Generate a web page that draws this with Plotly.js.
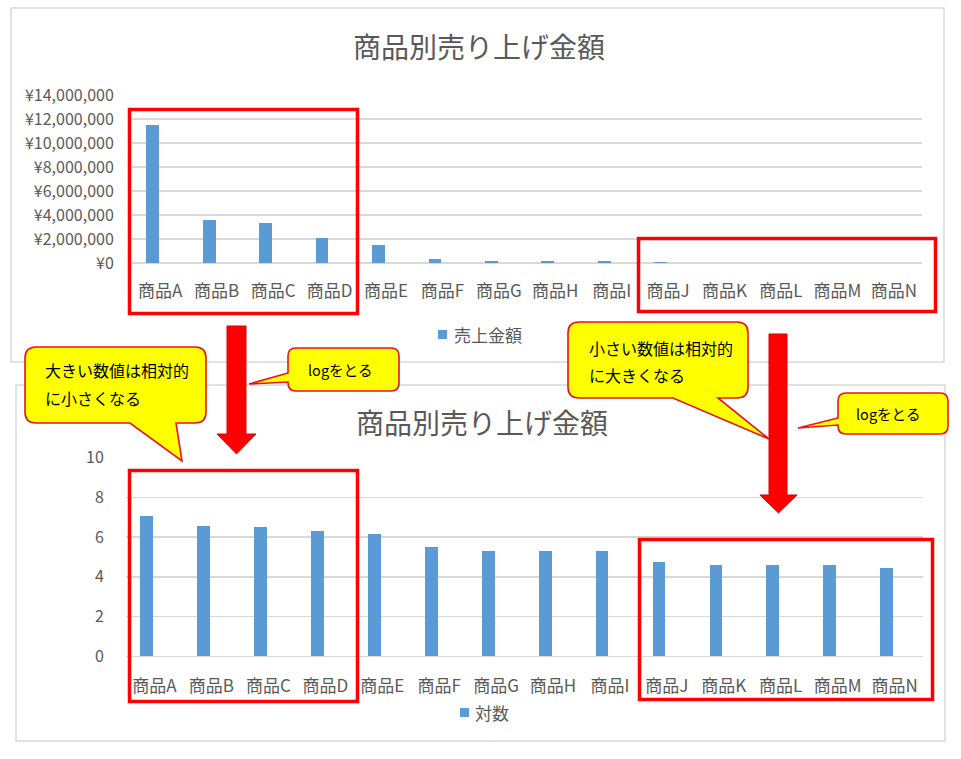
<!DOCTYPE html>
<html>
<head>
<meta charset="utf-8">
<script src="https://cdn.plot.ly/plotly-3.0.1.min.js"></script>
<style>html,body{margin:0;padding:0;background:#fff;}#chart{width:961px;height:759px;}</style>
</head>
<body>
<div id="chart"></div>
<script>
// ---- data ----
const categories = ['商品A','商品B','商品C','商品D','商品E','商品F','商品G','商品H','商品I','商品J','商品K','商品L','商品M','商品N'];
const sales = [11500000, 3550000, 3330000, 2100000, 1500000, 300000, 200000, 200000, 200000, 56000, 40000, 40000, 40000, 28000];
const logValues = [7.06, 6.56, 6.51, 6.31, 6.16, 5.51, 5.31, 5.31, 5.31, 4.75, 4.60, 4.60, 4.60, 4.45];
const chartTitle = '商品別売り上げ金額';
const seriesTop = '売上金額';
const seriesBottom = '対数';
const noteBig = ['大きい数値は相対的', 'に小さくなる'];
const noteSmall = ['小さい数値は相対的', 'に大きくなる'];
const noteLog = 'logをとる';

// ---- layout helpers (pixel -> paper) ----
const W = 961, H = 759;
const X = p => p / W;
const Y = p => 1 - p / H;
const FONT = 'Noto Sans CJK JP, sans-serif';
const GREY = '#595959';
const GRID = '#d9d9d9';
const BAR = '#5b9bd5';

function pt(x, y) { return X(x).toFixed(5) + ',' + Y(y).toFixed(5); }

function callout(x0, y0, x1, y1, r, tail) {
  let d = 'M' + pt(x0 + r, y0) + ' L' + pt(x1 - r, y0) +
    ' Q' + pt(x1, y0) + ' ' + pt(x1, y0 + r) +
    ' L' + pt(x1, y1 - r) +
    ' Q' + pt(x1, y1) + ' ' + pt(x1 - r, y1);
  if (tail.edge === 'bottom') {
    d += ' L' + pt(tail.b, y1) + ' L' + pt(tail.tx, tail.ty) + ' L' + pt(tail.a, y1);
  }
  d += ' L' + pt(x0 + r, y1) + ' Q' + pt(x0, y1) + ' ' + pt(x0, y1 - r);
  if (tail.edge === 'left') {
    d += ' L' + pt(x0, tail.b) + ' L' + pt(tail.tx, tail.ty) + ' L' + pt(x0, tail.a);
  }
  d += ' L' + pt(x0, y0 + r) + ' Q' + pt(x0, y0) + ' ' + pt(x0 + r, y0) + ' Z';
  return {type: 'path', xref: 'paper', yref: 'paper', path: d,
    fillcolor: '#ffff00', line: {color: '#e8141c', width: 1.6}, layer: 'above'};
}

function arrow(x0, x1, yTop, yBase, hx0, hx1, tipY) {
  const cx = (hx0 + hx1) / 2;
  const d = 'M' + pt(x0, yTop) + ' L' + pt(x1, yTop) + ' L' + pt(x1, yBase) +
    ' L' + pt(hx1, yBase) + ' L' + pt(cx, tipY) + ' L' + pt(hx0, yBase) +
    ' L' + pt(x0, yBase) + ' Z';
  return {type: 'path', xref: 'paper', yref: 'paper', path: d,
    fillcolor: '#ff0000', line: {color: '#e00000', width: 1}, layer: 'above'};
}

function rectPx(x0, y0, x1, y1, color, width, layer) {
  return {type: 'rect', xref: 'paper', yref: 'paper',
    x0: X(x0), x1: X(x1), y0: Y(y1), y1: Y(y0),
    line: {color: color, width: width}, fillcolor: 'rgba(0,0,0,0)', layer: layer};
}

function txt(x, y, text, size, color, xanchor) {
  return {xref: 'paper', yref: 'paper', x: X(x), y: Y(y), text: text,
    showarrow: false, xanchor: xanchor || 'center', yanchor: 'middle',
    font: {family: FONT, size: size, color: color}};
}

const traces = [
  {type: 'bar', x: categories, y: sales, xaxis: 'x', yaxis: 'y',
   marker: {color: BAR}, width: 0.225, offset: -0.245, hoverinfo: 'skip'},
  {type: 'bar', x: categories, y: logValues, xaxis: 'x2', yaxis: 'y2',
   marker: {color: BAR}, width: 0.225, offset: -0.25, hoverinfo: 'skip'}
];

const xBase = {type: 'category', showgrid: false, zeroline: false, showline: false,
  ticks: 'outside', ticklen: 13, tickcolor: 'rgba(0,0,0,0)',
  tickfont: {family: FONT, size: 17, color: GREY}, fixedrange: true};

const layout = {
  width: W, height: H,
  margin: {l: 0, r: 0, t: 0, b: 0},
  paper_bgcolor: '#ffffff', plot_bgcolor: 'rgba(0,0,0,0)',
  showlegend: false,
  bargap: 0,
  xaxis: Object.assign({}, xBase, {domain: [X(132), X(922)], anchor: 'y'}),
  yaxis: {domain: [Y(263), Y(95)], range: [0, 14000000], dtick: 2000000,
    tickprefix: '¥', tickformat: ',d', anchor: 'x',
    showgrid: true, gridcolor: GRID, gridwidth: 1.4,
    zeroline: true, zerolinecolor: GRID, zerolinewidth: 1.4, showline: false,
    ticks: 'outside', ticklen: 14, tickcolor: 'rgba(0,0,0,0)',
    tickfont: {family: FONT, size: 16, color: GREY}, fixedrange: true},
  xaxis2: Object.assign({}, xBase, {domain: [X(126), X(923)], anchor: 'y2', ticklen: 14}),
  yaxis2: {domain: [Y(656.3), Y(457.7)], range: [0, 10], dtick: 2, anchor: 'x2',
    showgrid: true, gridcolor: GRID, gridwidth: 1.4,
    zeroline: true, zerolinecolor: GRID, zerolinewidth: 1.4, showline: false,
    ticks: 'outside', ticklen: 18, tickcolor: 'rgba(0,0,0,0)',
    tickfont: {family: FONT, size: 16, color: GREY}, fixedrange: true},
  shapes: [
    // chart borders
    rectPx(11, 8, 944, 362, GRID, 1.5, 'below'),
    rectPx(16, 385, 945, 741, GRID, 1.5, 'below'),
    // legend markers
    {type: 'rect', xref: 'paper', yref: 'paper', x0: X(438), x1: X(447), y0: Y(339), y1: Y(330),
     fillcolor: BAR, line: {width: 0}, layer: 'above'},
    {type: 'rect', xref: 'paper', yref: 'paper', x0: X(460), x1: X(469), y0: Y(717), y1: Y(708),
     fillcolor: BAR, line: {width: 0}, layer: 'above'},
    // red highlight boxes
    rectPx(129.5, 109.5, 357.5, 313.5, '#ff0000', 3.5, 'above'),
    rectPx(638.5, 238.5, 935.5, 311.5, '#ff0000', 3.5, 'above'),
    rectPx(129.5, 470.5, 357.5, 701.5, '#ff0000', 3.5, 'above'),
    rectPx(639.5, 539.5, 932.5, 699.5, '#ff0000', 3.5, 'above'),
    // arrows
    arrow(227, 246, 326, 434, 217, 256, 454),
    arrow(769, 787, 334, 495, 760, 797, 513),
    // callouts
    callout(25, 347, 206, 423, 11, {edge: 'bottom', a: 130, b: 176, tx: 182, ty: 461}),
    callout(288, 348, 399, 391, 8, {edge: 'left', a: 373, b: 382, tx: 249, ty: 384}),
    callout(568, 322, 748, 398, 11, {edge: 'bottom', a: 673, b: 718, tx: 769, ty: 439}),
    callout(838, 393, 948, 434, 8, {edge: 'left', a: 418, b: 425, tx: 798, ty: 428})
  ],
  annotations: [
    txt(479, 46, chartTitle, 28, GREY),
    txt(482, 422, chartTitle, 28, GREY),
    txt(452, 334, seriesTop, 17, GREY, 'left'),
    txt(473, 712, seriesBottom, 17, GREY, 'left'),
    txt(43, 370, noteBig[0], 16, '#000', 'left'),
    txt(43, 398, noteBig[1], 16, '#000', 'left'),
    txt(587, 348, noteSmall[0], 16, '#000', 'left'),
    txt(587, 375, noteSmall[1], 16, '#000', 'left'),
    txt(340, 370, noteLog, 14.5, '#000'),
    txt(888, 414, noteLog, 14.5, '#000')
  ]
};

Plotly.newPlot('chart', traces, layout, {staticPlot: true, displayModeBar: false});
</script>
</body>
</html>
